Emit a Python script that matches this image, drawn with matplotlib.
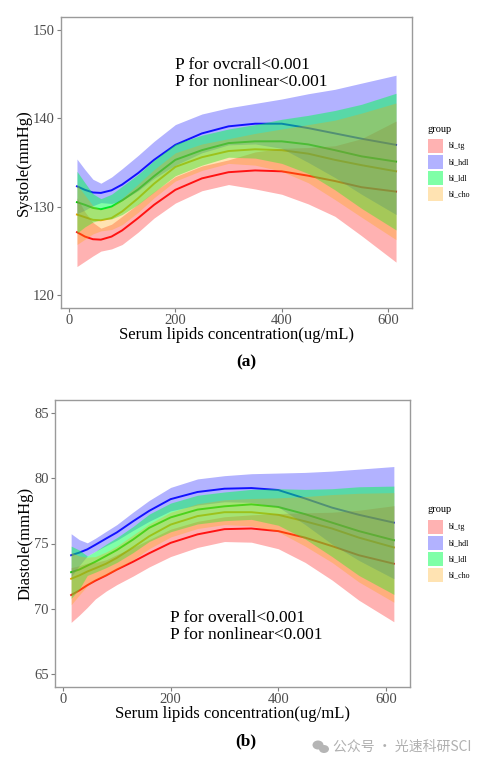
import matplotlib
matplotlib.use("Agg")
import matplotlib.pyplot as plt
from matplotlib.patches import Rectangle, Ellipse
import numpy as np

plt.rcParams['font.family'] = ['Liberation Serif', 'DejaVu Serif']

# lipid concentration where the fitted curves were read
conc = [15, 30, 45, 60, 80, 100, 130, 160, 200, 250, 300, 350, 400, 450, 500, 550, 615]
groups = ['bl_tg', 'bl_hdl', 'bl_ldl', 'bl_cho']

# (a) systole: fitted values and half width of the ribbon
sys_tg = [127.1, 126.6, 126.3, 126.25, 126.6, 127.3, 128.7, 130.2, 131.9, 133.2, 133.9, 134.1, 134.0, 133.5, 132.9, 132.2, 131.7]
sys_hdl = [132.3, 131.9, 131.6, 131.55, 131.85, 132.5, 133.8, 135.3, 137.0, 138.3, 139.1, 139.4, 139.4, 138.9, 138.3, 137.7, 137.0]
sys_ldl = [130.5, 130.2, 129.85, 129.7, 130.0, 130.7, 131.95, 133.45, 135.3, 136.4, 137.2, 137.4, 137.4, 137.05, 136.4, 135.7, 135.1]
sys_cho = [129.1, 128.8, 128.5, 128.45, 128.7, 129.45, 130.95, 132.6, 134.5, 135.6, 136.3, 136.5, 136.4, 136.0, 135.3, 134.7, 134.0]
sys_hw_tg = [3.9, 2.8, 1.9, 1.3, 1.4, 1.6, 1.6, 1.5, 1.5, 1.4, 1.4, 2.1, 2.6, 3.2, 4.0, 5.5, 8.0]
sys_hw_hdl = [3.1, 2.3, 1.5, 1.1, 1.5, 1.8, 2.0, 2.1, 2.3, 2.2, 2.1, 2.3, 2.8, 3.9, 5.0, 6.3, 7.9]
sys_hw_ldl = [3.5, 2.5, 1.6, 1.2, 1.4, 1.6, 1.7, 1.8, 1.8, 1.7, 1.6, 1.9, 2.5, 3.3, 4.5, 5.9, 7.75]
sys_hw_cho = [3.4, 2.5, 1.6, 1.2, 1.3, 1.5, 1.6, 1.6, 1.6, 1.5, 1.4, 1.8, 2.4, 3.3, 4.5, 5.9, 7.75]

# (b) diastole
dia_tg = [71.05, 71.4, 71.8, 72.15, 72.55, 73.0, 73.6, 74.25, 75.05, 75.7, 76.1, 76.15, 75.95, 75.45, 74.8, 74.1, 73.45]
dia_hdl = [74.1, 74.3, 74.55, 74.9, 75.38, 75.85, 76.7, 77.5, 78.4, 78.95, 79.2, 79.25, 79.1, 78.45, 77.75, 77.2, 76.6]
dia_ldl = [72.8, 73.0, 73.3, 73.6, 74.05, 74.5, 75.3, 76.2, 77.0, 77.6, 77.85, 78.0, 77.8, 77.25, 76.6, 75.95, 75.25]
dia_cho = [72.3, 72.55, 72.85, 73.1, 73.45, 73.9, 74.7, 75.55, 76.45, 77.1, 77.4, 77.4, 77.2, 76.7, 76.15, 75.45, 74.7]
dia_hw_tg = [2.1, 1.9, 1.7, 1.4, 1.2, 1.15, 1.1, 1.05, 1.05, 1.0, 0.95, 1.05, 1.35, 1.9, 2.6, 3.45, 4.45]
dia_hw_hdl = [1.65, 1.0, 0.5, 0.5, 0.55, 0.6, 0.7, 0.8, 0.9, 1.0, 1.0, 1.1, 1.3, 2.0, 2.8, 3.5, 4.3]
dia_hw_ldl = [2.0, 1.5, 0.75, 0.8, 0.9, 0.95, 1.0, 1.05, 1.1, 1.1, 1.1, 1.15, 1.4, 1.9, 2.6, 3.4, 4.15]
dia_hw_cho = [2.0, 1.5, 1.1, 0.9, 0.9, 0.9, 0.95, 0.95, 0.95, 0.95, 0.95, 1.05, 1.3, 1.9, 2.6, 3.4, 4.2]

line_cols = ['#ff1a1a', '#1a1aff', '#00cc00', '#e6a000']
fill_cols = ['#ff0000', '#0000ff', '#00ff50', '#ffa500']
fill_alpha = [0.3, 0.3, 0.5, 0.3]

W, H = 482, 765
fig = plt.figure(figsize=(W / 100, H / 100), dpi=100)


def fx(px):
    return px / W


def fy(py):
    return 1 - py / H


def panel(rect, fits, hws, ylim, yticks, ylabel, ptxt, pxy, caption, cap_y, leg_top):
    ax = fig.add_axes(rect)
    x = np.array(conc)
    # lines first, ribbons over them like in the original
    for i in range(4):
        ax.plot(x, fits[i], color=line_cols[i], lw=1.4, zorder=2)
    for i in range(4):
        f = np.array(fits[i])
        h = np.array(hws[i])
        ax.fill_between(x, f - h, f + h, color=fill_cols[i], alpha=fill_alpha[i],
                        lw=0, zorder=3)
    ax.set_xlim(-15, 645)
    ax.set_ylim(*ylim)
    ax.set_xticks([0, 200, 400, 600])
    ax.set_yticks(yticks)
    ax.tick_params(colors='#7f7f7f', labelcolor='#4d4d4d', labelsize=10.5,
                   length=3, width=0.8, pad=1.5)
    for s in ax.spines.values():
        s.set_color('#9a9a9a')
        s.set_linewidth(1.0)
    ax.set_xlabel('Serum lipids concentration(ug/mL)', fontsize=12, labelpad=0)
    ax.set_ylabel(ylabel, fontsize=12, labelpad=0.5)
    ax.text(pxy[0], pxy[1], ptxt, transform=ax.transAxes, fontsize=12.5,
            va='top', ha='left', linespacing=1.1)
    fig.text(fx(246), fy(cap_y), caption, fontsize=12.5, fontweight='bold',
             ha='center', va='center')
    # legend
    fig.text(fx(427), fy(leg_top), 'group', fontsize=7.5, ha='left', va='center')
    for i in range(4):
        y0 = leg_top + 10 + 16 * i
        fig.add_artist(Rectangle((fx(428), fy(y0 + 14)), 14.5 / W, 14 / H,
                                 transform=fig.transFigure, facecolor=fill_cols[i],
                                 alpha=fill_alpha[i], lw=0))
        fig.text(fx(448), fy(y0 + 7), groups[i], fontsize=5.8, ha='left', va='center')
    return ax


panel([fx(61), fy(308), fx(412) - fx(61), fy(17) - fy(308)],
      [sys_tg, sys_hdl, sys_ldl, sys_cho],
      [sys_hw_tg, sys_hw_hdl, sys_hw_ldl, sys_hw_cho],
      (118.5, 151.5), [120, 130, 140, 150], 'Systole(mmHg)',
      'P for ovcrall<0.001\nP for nonlinear<0.001', (0.325, 0.8625),
      '(a)', 362, 129)

panel([fx(55), fy(687), fx(410) - fx(55), fy(400) - fy(687)],
      [dia_tg, dia_hdl, dia_ldl, dia_cho],
      [dia_hw_tg, dia_hw_hdl, dia_hw_ldl, dia_hw_cho],
      (64, 86), [65, 70, 75, 80, 85], 'Diastole(mmHg)',
      'P for overall<0.001\nP for nonlinear<0.001', (0.325, 0.27),
      '(b)', 741, 510)

# watermark
fig.add_artist(Ellipse((fx(318), fy(745)), 11 / W, 9 / H, transform=fig.transFigure,
                       color='#b5b5b5', lw=0))
fig.add_artist(Ellipse((fx(324), fy(749)), 10 / W, 8 / H, transform=fig.transFigure,
                       color='#b5b5b5', lw=0, ec='white'))
fig.text(fx(333), fy(747), '公众号 · 光速科研SCI', fontsize=10, color='#b0b0b0',
         family=['Noto Sans CJK SC', 'DejaVu Sans'], ha='left', va='center')

fig.savefig('out.png', dpi=100)
